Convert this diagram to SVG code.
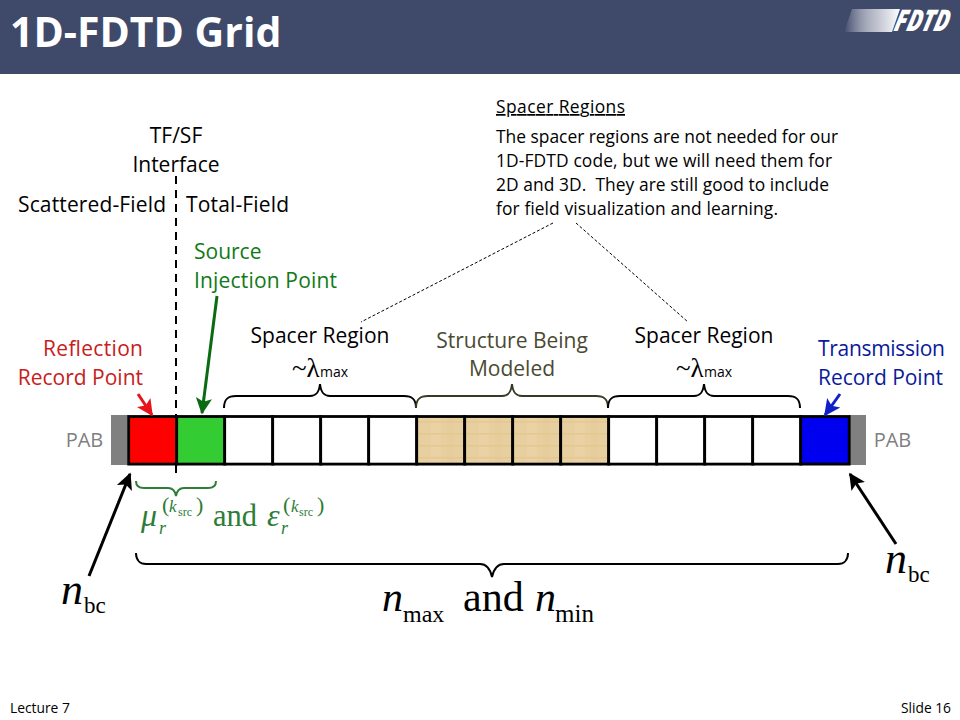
<svg xmlns="http://www.w3.org/2000/svg" width="960" height="720" viewBox="0 0 960 720">
<style>
text{font-family:"Open Sans","Noto Sans","DejaVu Sans",sans-serif;fill:#000}
.l{font-size:21px}
.m{font-size:17.4px;white-space:pre}
.f{font-size:13.8px}
.c{text-anchor:middle}
.e{text-anchor:end}
.t{font-family:"Liberation Serif","Times New Roman",serif}
.i{font-style:italic}
.cell{fill:#fff;stroke:#000;stroke-width:2.8}
.wood{fill:url(#wood);stroke:#000;stroke-width:2.8}
.brace{fill:none;stroke:#000;stroke-width:2}
.g{fill:#2d7d36}
</style>
<defs>
<linearGradient id="streak" x1="0" x2="1" y1="0" y2="0">
<stop offset="0" stop-color="#fff" stop-opacity="0"/>
<stop offset="0.45" stop-color="#c9ccd6" stop-opacity="0.8"/>
<stop offset="1" stop-color="#fff"/>
</linearGradient>
<pattern id="wood" width="48" height="12" patternUnits="userSpaceOnUse" x="416" y="416">
<rect width="48" height="12" fill="#e8cf9f"/>
<rect x="14" width="10" height="12" fill="#ead2a5"/>
<rect x="30" width="8" height="12" fill="#e7cd9b"/>
<rect y="5" width="48" height="1.5" fill="#e3c890"/>
</pattern>
<marker id="a" markerWidth="6" markerHeight="6" refX="5" refY="3" orient="auto"><path d="M0,0.3 L5.5,3 L0,5.7 L1.2,3z" fill="context-stroke"/></marker>
</defs>

<g id="header">
<rect width="960" height="74" fill="#3f4a6a"/>
<text x="10" y="47" font-size="41" font-weight="700" style="fill:#fff">1D-FDTD Grid</text>
<path d="M852,9 L900,9 L892,32 L844,32z" fill="url(#streak)"/>
<text transform="translate(893,31) skewX(-14) scale(0.95,1.3)" font-size="23" font-weight="800" font-style="italic" style="fill:#fff">FDTD</text>
</g>

<g id="spacer-note">
<text x="496" y="113" class="m" text-decoration="underline" textLength="129" lengthAdjust="spacing">Spacer Regions</text>
<text x="496" y="143" class="m" textLength="342" lengthAdjust="spacing">The spacer regions are not needed for our</text>
<text x="496" y="167" class="m" textLength="336" lengthAdjust="spacing">1D-FDTD code, but we will need them for</text>
<text x="496" y="191" class="m" xml:space="preserve" textLength="333" lengthAdjust="spacing">2D and 3D.  They are still good to include</text>
<text x="496" y="215" class="m" textLength="282" lengthAdjust="spacing">for field visualization and learning.</text>
</g>

<g id="tfsf-labels">
<text x="176" y="143" class="l c">TF/SF</text>
<text x="176" y="172" class="l c">Interface</text>
<text x="18" y="212" class="l" textLength="148" lengthAdjust="spacing">Scattered-Field</text>
<text x="186" y="212" class="l" textLength="103" lengthAdjust="spacing">Total-Field</text>
</g>

<g id="source-label">
<text x="194" y="259" class="l" style="fill:#0f7a16">Source</text>
<text x="194" y="288" class="l" style="fill:#0f7a16" textLength="143" lengthAdjust="spacing">Injection Point</text>
</g>

<g id="reflection-label">
<text x="43" y="356" class="l" style="fill:#c8201a" textLength="100" lengthAdjust="spacing">Reflection</text>
<text x="143" y="385" class="l e" style="fill:#c8201a">Record Point</text>
</g>

<g id="transmission-label">
<text x="818" y="356" class="l" style="fill:#0a1a9c" textLength="127" lengthAdjust="spacing">Transmission</text>
<text x="818" y="385" class="l" style="fill:#0a1a9c" textLength="125" lengthAdjust="spacing">Record Point</text>
</g>

<g id="spacer-left">
<text x="320" y="343" class="l c">Spacer Region</text>
<text x="292" y="377" class="t" font-size="27">~λ</text>
<text x="320" y="377" font-size="14">max</text>
</g>
<g id="structure-label">
<text x="512" y="348" class="l c" style="fill:#4a4a32">Structure Being</text>
<text x="512" y="376" class="l c" style="fill:#4a4a32">Modeled</text>
</g>
<g id="spacer-right">
<text x="704" y="343" class="l c">Spacer Region</text>
<text x="676" y="377" class="t" font-size="27">~λ</text>
<text x="704" y="377" font-size="14">max</text>
</g>

<g id="pab-left">
<rect x="111" y="415" width="18" height="50" fill="#808080"/>
<text x="84.5" y="447" class="c" style="fill:#808080" font-size="20">PAB</text>
</g>
<g id="pab-right">
<rect x="849" y="415" width="17" height="50" fill="#808080"/>
<text x="892.5" y="447" class="c" style="fill:#808080" font-size="20">PAB</text>
</g>

<g id="grid" transform="translate(0.7,0)">
<rect x="128" y="416.5" width="48" height="47.6" fill="#ff0000" stroke="#000" stroke-width="2.8"/>
<rect x="176" y="416.5" width="48" height="47.6" fill="#33cc33" stroke="#000" stroke-width="2.8"/>
<rect x="224" y="416.5" width="48" height="47.6" class="cell"/>
<rect x="272" y="416.5" width="48" height="47.6" class="cell"/>
<rect x="320" y="416.5" width="48" height="47.6" class="cell"/>
<rect x="368" y="416.5" width="48" height="47.6" class="cell"/>
<rect x="416" y="416.5" width="48" height="47.6" class="wood"/>
<rect x="464" y="416.5" width="48" height="47.6" class="wood"/>
<rect x="512" y="416.5" width="48" height="47.6" class="wood"/>
<rect x="560" y="416.5" width="48" height="47.6" class="wood"/>
<rect x="608" y="416.5" width="48" height="47.6" class="cell"/>
<rect x="656" y="416.5" width="48" height="47.6" class="cell"/>
<rect x="704" y="416.5" width="48" height="47.6" class="cell"/>
<rect x="752" y="416.5" width="48" height="47.6" class="cell"/>
<rect x="800" y="416.5" width="48.5" height="47.6" fill="#0000f0" stroke="#000" stroke-width="2.8"/>
</g>

<g id="connectors">
<path d="M176,176 V417 M176,465 V478" fill="none" stroke="#000" stroke-width="2" stroke-dasharray="8 6"/>
<path d="M553,223 L361,322 M576,223 L688,322" fill="none" stroke="#000" stroke-width="1" stroke-dasharray="3 2"/>
<path d="M217,296 L202,413" fill="none" stroke="#0b6b12" stroke-width="3" marker-end="url(#a)"/>
<path d="M138,394 L152,415" fill="none" stroke="#e8141c" stroke-width="3" marker-end="url(#a)"/>
<path d="M840,394 L825,415" fill="none" stroke="#1020c8" stroke-width="3" marker-end="url(#a)"/>
<path d="M89,576 L130,474" fill="none" stroke="#000" stroke-width="3" marker-end="url(#a)"/>
<path d="M896,544 L850,474" fill="none" stroke="#000" stroke-width="3" marker-end="url(#a)"/>
<path class="brace" d="M224,408 C224,399 228,396 236,396 H310 C316,396 319,393 320,384 C321,393 324,396 330,396 H404 C412,396 416,399 416,408"/>
<path class="brace" style="stroke:#3a3a24" d="M416,408 C416,399 420,396 428,396 H502 C508,396 511,393 512,384 C513,393 516,396 522,396 H596 C604,396 608,399 608,408"/>
<path class="brace" d="M608,408 C608,399 612,396 620,396 H694 C700,396 703,393 704,384 C705,393 708,396 714,396 H788 C796,396 800,399 800,408"/>
<path class="brace" style="stroke:#2d7d36" d="M136,481 C136,486 139,488 144,488 H168 C172,488 175,490 176,496 C177,490 180,488 184,488 H208 C213,488 216,486 216,481"/>
<path class="brace" d="M136,553 C136,560 140,564 146,564 H480 C486,564 490,568 492,577 C494,568 498,564 504,564 H838 C844,564 848,560 848,553"/>
</g>

<g id="mu-eps-label">
<text x="141" y="526" class="t i g" font-size="32">μ</text>
<text x="159" y="534" class="t i g" font-size="18">r</text>
<text x="162" y="512" class="t g" font-size="22">(</text>
<text x="169" y="512" class="t i g" font-size="17">k</text>
<text x="178" y="516" class="t g" font-size="12">src</text>
<text x="196" y="512" class="t g" font-size="22">)</text>
<text x="213" y="526" class="t g" font-size="30.5">and</text>
<text x="267" y="526" class="t i g" font-size="32">ε</text>
<text x="281" y="534" class="t i g" font-size="18">r</text>
<text x="283" y="512" class="t g" font-size="22">(</text>
<text x="291" y="512" class="t i g" font-size="17">k</text>
<text x="299" y="516" class="t g" font-size="12">src</text>
<text x="317" y="512" class="t g" font-size="22">)</text>
</g>

<g id="nbc-left">
<text x="61" y="604" class="t i" font-size="44">n</text>
<text x="84" y="613" class="t" font-size="23">bc</text>
</g>
<g id="nbc-right">
<text x="885" y="573" class="t i" font-size="44">n</text>
<text x="908" y="582" class="t" font-size="23">bc</text>
</g>
<g id="nmax-label">
<text x="382" y="611" class="t i" font-size="42">n</text>
<text x="403" y="622" class="t" font-size="24">max</text>
<text x="463" y="611" class="t" font-size="42">and</text>
<text x="535" y="611" class="t i" font-size="42">n</text>
<text x="555" y="622" class="t" font-size="25">min</text>
</g>

<g id="footer">
<text x="10" y="713" class="f">Lecture 7</text>
<text x="951" y="713" class="f e">Slide 16</text>
</g>
</svg>
